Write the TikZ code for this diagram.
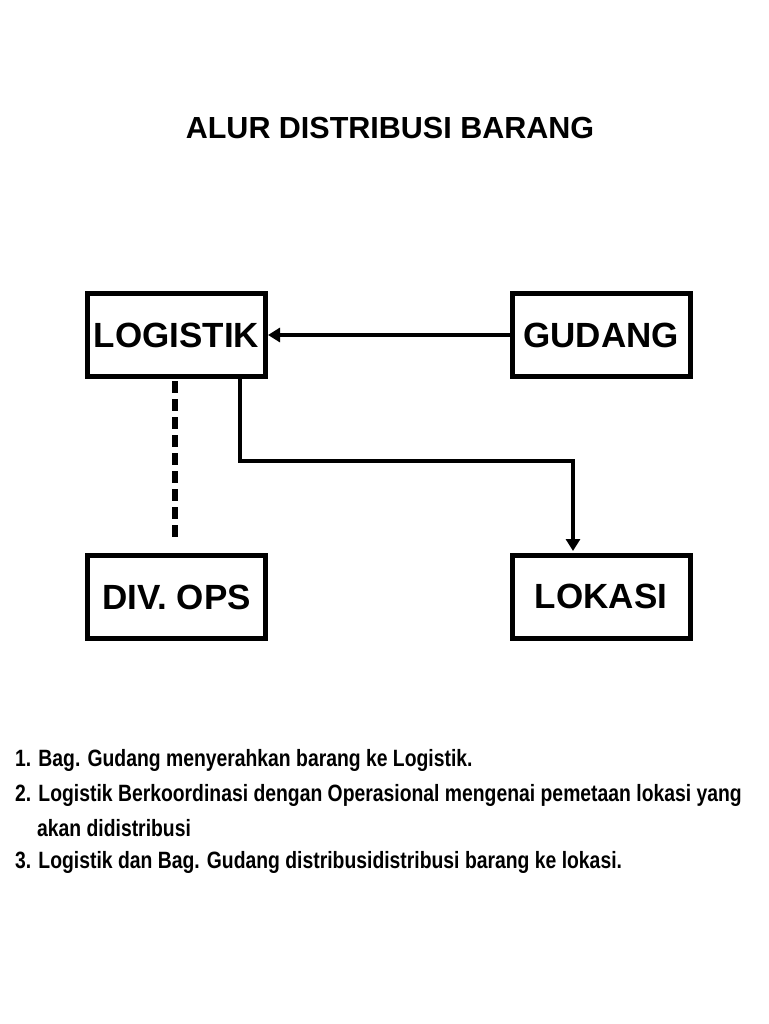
\documentclass[tikz,border=0pt]{standalone}
\usepackage{fontspec}
\setmainfont{Liberation Sans}
\usetikzlibrary{arrows.meta}
\begin{document}
\begin{tikzpicture}[x=1pt,y=-1pt,
  box/.style={draw,line width=5pt,minimum width=178pt,minimum height=83pt,font=\bfseries\fontsize{35}{37}\selectfont,inner sep=0pt},
  conn/.style={line width=4pt},
  item/.style={anchor=west,font=\bfseries\fontsize{23.6}{26}\selectfont,inner sep=0pt,xscale=0.82}]
\useasboundingbox (0,0) rectangle (768,1024);
\node[font=\bfseries\fontsize{30.5}{33}\selectfont] (title) at (390,128) {ALUR DISTRIBUSI BARANG};
\node[box] (log) at (176.5,335) {LOGISTIK};
\node[box] (gud) at (601,335) {\raisebox{-3pt}{GUDANG}};
\node[box] (div) at (176.5,597) {DIV. OPS};
\node[box] (lok) at (601,597) {\raisebox{2pt}{LOKASI}};
\coordinate (d1) at (175,381);
\coordinate (d2) at (175,541);
\draw[conn,dashed,dash pattern=on 12pt off 6pt,line width=6pt] (d1) -- (d2);
\draw[conn,-{Triangle[length=12pt,width=14pt]}] (gud.west) -- (log.east);
\coordinate (c1) at (240,461);
\coordinate (c2) at (573,461);
\draw[conn,-{Triangle[length=12pt,width=14pt]}] (240,378) -- (c1) -- (c2) -- (573,551);
\node[item] (i1) at (15,760) {1. Bag. Gudang menyerahkan barang ke Logistik.};
\node[item] (i2) at (15,795) {2. Logistik Berkoordinasi dengan Operasional mengenai pemetaan lokasi yang};
\node[item] (i2b) at (37,828) {akan didistribusi};
\node[item] (i3) at (15,862) {3. Logistik dan Bag. Gudang distribusidistribusi barang ke lokasi.};
\end{tikzpicture}
\end{document}
